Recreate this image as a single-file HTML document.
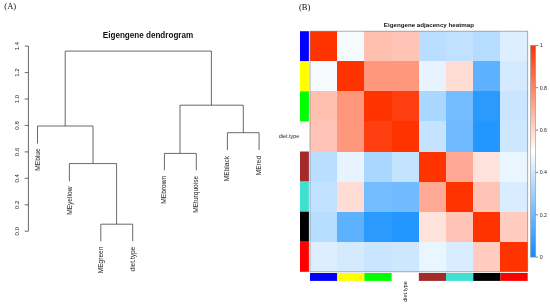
<!DOCTYPE html><html><head><meta charset="utf-8"><title>Eigengene</title><style>html,body{margin:0;padding:0;background:#fff}svg{display:block}text{font-family:"Liberation Sans",sans-serif;fill:#262626}</style></head><body>
<svg width="550" height="305" viewBox="0 0 550 305">
<rect width="550" height="305" fill="#fff"/>
<defs><linearGradient id="cb" x1="0" y1="0" x2="0" y2="1"><stop offset="0" stop-color="#ff3300"/><stop offset="0.5" stop-color="#ffffff"/><stop offset="1" stop-color="#0d8cff"/></linearGradient></defs>
<text x="4.3" y="9.4" style="font-family:'Liberation Serif',serif;font-size:8.6px;fill:#111">(A)</text>
<text x="299" y="9.9" style="font-family:'Liberation Serif',serif;font-size:8.6px;fill:#111">(B)</text>
<text transform="translate(148 38.1) scale(0.942 1)" text-anchor="middle" style="font-size:8.6px;font-weight:bold;fill:#111">Eigengene dendrogram</text>
<g stroke="#444" stroke-width="0.8" fill="none">
<path d="M28.4 231.2V46.1"/>
<path d="M28.4 231.2H24.7"/>
<path d="M28.4 204.8H24.7"/>
<path d="M28.4 178.3H24.7"/>
<path d="M28.4 151.9H24.7"/>
<path d="M28.4 125.4H24.7"/>
<path d="M28.4 99.0H24.7"/>
<path d="M28.4 72.6H24.7"/>
<path d="M28.4 46.1H24.7"/>
<path d="M65.2 126V51.1H211.4V105.2M37.5 143.6V126H93V163.6M69.4 181.2V163.6H116.6V224.2M100.8 241.3V224.2H132.7V241.3M180 153.4V105.2H243.3V132.7M164.4 170.3V153.4H196.3V170.3M227.4 150V132.7H259.1V150"/>
</g>
<text transform="translate(19.2 231.2) rotate(-90)" text-anchor="middle" style="font-size:6.1px">0.0</text>
<text transform="translate(19.2 204.8) rotate(-90)" text-anchor="middle" style="font-size:6.1px">0.2</text>
<text transform="translate(19.2 178.3) rotate(-90)" text-anchor="middle" style="font-size:6.1px">0.4</text>
<text transform="translate(19.2 151.9) rotate(-90)" text-anchor="middle" style="font-size:6.1px">0.6</text>
<text transform="translate(19.2 125.4) rotate(-90)" text-anchor="middle" style="font-size:6.1px">0.8</text>
<text transform="translate(19.2 99.0) rotate(-90)" text-anchor="middle" style="font-size:6.1px">1.0</text>
<text transform="translate(19.2 72.6) rotate(-90)" text-anchor="middle" style="font-size:6.1px">1.2</text>
<text transform="translate(19.2 46.1) rotate(-90)" text-anchor="middle" style="font-size:6.1px">1.4</text>
<text transform="translate(39.5 148.4) rotate(-90)" text-anchor="end" style="font-size:6.6px">MEblue</text>
<text transform="translate(71.5 186.6) rotate(-90)" text-anchor="end" style="font-size:6.6px">MEyellow</text>
<text transform="translate(102.5 246.6) rotate(-90)" text-anchor="end" style="font-size:6.6px">MEgreen</text>
<text transform="translate(134.7 246.6) rotate(-90)" text-anchor="end" style="font-size:6.6px">diet.type</text>
<text transform="translate(166.2 175.8) rotate(-90)" text-anchor="end" style="font-size:6.6px">MEbrown</text>
<text transform="translate(198.0 175.8) rotate(-90)" text-anchor="end" style="font-size:6.6px">MEturquoise</text>
<text transform="translate(229.4 155.9) rotate(-90)" text-anchor="end" style="font-size:6.6px">MEblack</text>
<text transform="translate(261.2 155.9) rotate(-90)" text-anchor="end" style="font-size:6.6px">MEred</text>
<text x="428.9" y="27.45" text-anchor="middle" style="font-size:6.2px;font-weight:bold;fill:#111">Eigengene adjacency heatmap</text>
<g shape-rendering="crispEdges">
<rect x="310.00" y="31.20" width="27.51" height="30.38" fill="#ff3300"/>
<rect x="337.21" y="31.20" width="27.51" height="30.38" fill="#f5faff"/>
<rect x="364.43" y="31.20" width="27.51" height="30.38" fill="#ffc0b0"/>
<rect x="391.64" y="31.20" width="27.51" height="30.38" fill="#ffc4b5"/>
<rect x="418.85" y="31.20" width="27.51" height="30.38" fill="#b9deff"/>
<rect x="446.06" y="31.20" width="27.51" height="30.38" fill="#c0e1ff"/>
<rect x="473.28" y="31.20" width="27.51" height="30.38" fill="#b6dcff"/>
<rect x="500.49" y="31.20" width="27.51" height="30.38" fill="#ddefff"/>
<rect x="310.00" y="61.28" width="27.51" height="30.38" fill="#f5faff"/>
<rect x="337.21" y="61.28" width="27.51" height="30.38" fill="#ff3300"/>
<rect x="364.43" y="61.28" width="27.51" height="30.38" fill="#ff977d"/>
<rect x="391.64" y="61.28" width="27.51" height="30.38" fill="#ff977d"/>
<rect x="418.85" y="61.28" width="27.51" height="30.38" fill="#e7f4ff"/>
<rect x="446.06" y="61.28" width="27.51" height="30.38" fill="#ffdcd4"/>
<rect x="473.28" y="61.28" width="27.51" height="30.38" fill="#5db2ff"/>
<rect x="500.49" y="61.28" width="27.51" height="30.38" fill="#d3eaff"/>
<rect x="310.00" y="91.35" width="27.51" height="30.38" fill="#ffc0b0"/>
<rect x="337.21" y="91.35" width="27.51" height="30.38" fill="#ff977d"/>
<rect x="364.43" y="91.35" width="27.51" height="30.38" fill="#ff3300"/>
<rect x="391.64" y="91.35" width="27.51" height="30.38" fill="#ff3f0f"/>
<rect x="418.85" y="91.35" width="27.51" height="30.38" fill="#aad7ff"/>
<rect x="446.06" y="91.35" width="27.51" height="30.38" fill="#73bcff"/>
<rect x="473.28" y="91.35" width="27.51" height="30.38" fill="#2a9aff"/>
<rect x="500.49" y="91.35" width="27.51" height="30.38" fill="#c9e5ff"/>
<rect x="310.00" y="121.43" width="27.51" height="30.38" fill="#ffc4b5"/>
<rect x="337.21" y="121.43" width="27.51" height="30.38" fill="#ff977d"/>
<rect x="364.43" y="121.43" width="27.51" height="30.38" fill="#ff3f0f"/>
<rect x="391.64" y="121.43" width="27.51" height="30.38" fill="#ff3300"/>
<rect x="418.85" y="121.43" width="27.51" height="30.38" fill="#c4e3ff"/>
<rect x="446.06" y="121.43" width="27.51" height="30.38" fill="#70bbff"/>
<rect x="473.28" y="121.43" width="27.51" height="30.38" fill="#2396ff"/>
<rect x="500.49" y="121.43" width="27.51" height="30.38" fill="#cde7ff"/>
<rect x="310.00" y="151.50" width="27.51" height="30.38" fill="#b9deff"/>
<rect x="337.21" y="151.50" width="27.51" height="30.38" fill="#e7f4ff"/>
<rect x="364.43" y="151.50" width="27.51" height="30.38" fill="#aad7ff"/>
<rect x="391.64" y="151.50" width="27.51" height="30.38" fill="#c4e3ff"/>
<rect x="418.85" y="151.50" width="27.51" height="30.38" fill="#ff3300"/>
<rect x="446.06" y="151.50" width="27.51" height="30.38" fill="#ffa994"/>
<rect x="473.28" y="151.50" width="27.51" height="30.38" fill="#ffe2db"/>
<rect x="500.49" y="151.50" width="27.51" height="30.38" fill="#e9f5ff"/>
<rect x="310.00" y="181.57" width="27.51" height="30.38" fill="#c0e1ff"/>
<rect x="337.21" y="181.57" width="27.51" height="30.38" fill="#ffdcd4"/>
<rect x="364.43" y="181.57" width="27.51" height="30.38" fill="#73bcff"/>
<rect x="391.64" y="181.57" width="27.51" height="30.38" fill="#70bbff"/>
<rect x="418.85" y="181.57" width="27.51" height="30.38" fill="#ffa994"/>
<rect x="446.06" y="181.57" width="27.51" height="30.38" fill="#ff3300"/>
<rect x="473.28" y="181.57" width="27.51" height="30.38" fill="#ffc4b5"/>
<rect x="500.49" y="181.57" width="27.51" height="30.38" fill="#d8edff"/>
<rect x="310.00" y="211.65" width="27.51" height="30.38" fill="#b6dcff"/>
<rect x="337.21" y="211.65" width="27.51" height="30.38" fill="#5db2ff"/>
<rect x="364.43" y="211.65" width="27.51" height="30.38" fill="#2a9aff"/>
<rect x="391.64" y="211.65" width="27.51" height="30.38" fill="#2396ff"/>
<rect x="418.85" y="211.65" width="27.51" height="30.38" fill="#ffe2db"/>
<rect x="446.06" y="211.65" width="27.51" height="30.38" fill="#ffc4b5"/>
<rect x="473.28" y="211.65" width="27.51" height="30.38" fill="#ff3300"/>
<rect x="500.49" y="211.65" width="27.51" height="30.38" fill="#ffccbf"/>
<rect x="310.00" y="241.73" width="27.51" height="30.38" fill="#ddefff"/>
<rect x="337.21" y="241.73" width="27.51" height="30.38" fill="#d3eaff"/>
<rect x="364.43" y="241.73" width="27.51" height="30.38" fill="#c9e5ff"/>
<rect x="391.64" y="241.73" width="27.51" height="30.38" fill="#cde7ff"/>
<rect x="418.85" y="241.73" width="27.51" height="30.38" fill="#e9f5ff"/>
<rect x="446.06" y="241.73" width="27.51" height="30.38" fill="#d8edff"/>
<rect x="473.28" y="241.73" width="27.51" height="30.38" fill="#ffccbf"/>
<rect x="500.49" y="241.73" width="27.51" height="30.38" fill="#ff3300"/>
</g>
<rect x="310.0" y="31.2" width="217.7" height="240.6" fill="none" stroke="#8c8c8c" stroke-opacity="0.85" stroke-width="0.8"/>
<rect x="300" y="31.20" width="8.9" height="30.08" fill="blue"/>
<rect x="310.00" y="273" width="27.21" height="7.9" fill="blue"/>
<rect x="300" y="61.28" width="8.9" height="30.08" fill="yellow"/>
<rect x="337.21" y="273" width="27.21" height="7.9" fill="yellow"/>
<rect x="300" y="91.35" width="8.9" height="30.08" fill="#00ff00"/>
<rect x="364.43" y="273" width="27.21" height="7.9" fill="#00ff00"/>
<rect x="300" y="151.50" width="8.9" height="30.08" fill="#a52a2a"/>
<rect x="418.85" y="273" width="27.21" height="7.9" fill="#a52a2a"/>
<rect x="300" y="181.57" width="8.9" height="30.08" fill="#40e0d0"/>
<rect x="446.06" y="273" width="27.21" height="7.9" fill="#40e0d0"/>
<rect x="300" y="211.65" width="8.9" height="30.08" fill="black"/>
<rect x="473.28" y="273" width="27.21" height="7.9" fill="black"/>
<rect x="300" y="241.73" width="8.9" height="30.08" fill="red"/>
<rect x="500.49" y="273" width="27.21" height="7.9" fill="red"/>
<text x="278.8" y="138.4" style="font-size:5.45px">diet.type</text>
<text transform="translate(407.1 281.2) rotate(-90)" text-anchor="end" style="font-size:5.45px">diet.type</text>
<rect x="530.6" y="45.4" width="5" height="211.7" fill="url(#cb)"/>
<rect x="530.6" y="45.4" width="5" height="211.7" fill="none" stroke="#8a8a8a" stroke-opacity="0.75" stroke-width="0.7"/>
<g stroke="#333" stroke-width="0.6" fill="none">
<path d="M535.6 257.1H538.2"/>
<path d="M535.6 214.8H538.2"/>
<path d="M535.6 172.4H538.2"/>
<path d="M535.6 130.1H538.2"/>
<path d="M535.6 87.7H538.2"/>
<path d="M535.6 45.4H538.2"/>
</g>
<text x="539.7" y="259.0" style="font-size:5.3px">0</text>
<text x="539.7" y="216.7" style="font-size:5.3px">0.2</text>
<text x="539.7" y="174.3" style="font-size:5.3px">0.4</text>
<text x="539.7" y="132.0" style="font-size:5.3px">0.6</text>
<text x="539.7" y="89.6" style="font-size:5.3px">0.8</text>
<text x="539.7" y="47.3" style="font-size:5.3px">1</text>
</svg></body></html>
